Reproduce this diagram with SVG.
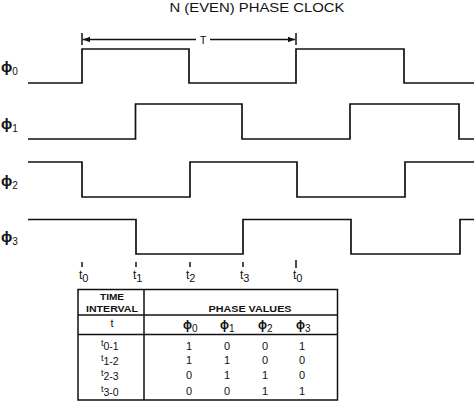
<svg xmlns="http://www.w3.org/2000/svg" width="474" height="402" viewBox="0 0 474 402">
<defs>
<style>
text{font-family:"Liberation Sans",Arial,sans-serif;fill:#111}
.w{fill:none;stroke:#111;stroke-width:1.7}
.ln{fill:none;stroke:#111;stroke-width:1.5}
.tk{stroke:#111;stroke-width:1.5}
.ph{font-size:15px;font-weight:bold}
.sub{font-size:10px;font-weight:normal}
.hd{font-size:9.5px;text-anchor:middle;font-weight:bold}
.v{font-size:11px;text-anchor:middle}
.tp{font-size:12px;font-weight:bold}
</style>
<marker id="ah" viewBox="0 0 10 10" refX="10" refY="5" markerWidth="7" markerHeight="7" orient="auto-start-reverse" markerUnits="userSpaceOnUse">
<path d="M0,1 L10,5 L0,9 z" fill="#111"/>
</marker>
</defs>
<rect width="474" height="402" fill="#fff"/>
<text x="257" y="12" font-size="13" text-anchor="middle" textLength="175" lengthAdjust="spacingAndGlyphs">N (EVEN) PHASE CLOCK</text>

<g id="period">
<line class="tk" x1="82" y1="33" x2="82" y2="45"/>
<line class="tk" x1="296" y1="33" x2="296" y2="45"/>
<line class="ln" x1="196" y1="39.5" x2="83" y2="39.5" marker-end="url(#ah)"/>
<line class="ln" x1="210" y1="39.5" x2="295" y2="39.5" marker-end="url(#ah)"/>
<text x="203" y="44" font-size="11" text-anchor="middle">T</text>
</g>

<g id="phi0">
<text x="1" y="72" class="ph">ϕ<tspan class="sub" dy="3">0</tspan></text>
<path class="w" d="M28,83 H82 V49 H189 V83 H296 V49 H404 V83 H474"/>
</g>
<g id="phi1">
<text x="1" y="129" class="ph">ϕ<tspan class="sub" dy="3">1</tspan></text>
<path class="w" d="M28,139 H135.5 V104 H242 V139 H350 V104 H459 V139 H474"/>
</g>
<g id="phi2">
<text x="1" y="186" class="ph">ϕ<tspan class="sub" dy="3">2</tspan></text>
<path class="w" d="M28,162 H82 V197 H190 V162 H297 V197 H405 V162 H474"/>
</g>
<g id="phi3">
<text x="1" y="242" class="ph">ϕ<tspan class="sub" dy="3">3</tspan></text>
<path class="w" d="M28,219.5 H136 V254 H243 V219.5 H351 V254 H460 V219.5 H474"/>
</g>

<g id="ticks">
<line class="tk" x1="82" y1="262" x2="82" y2="267"/>
<line class="tk" x1="136" y1="262" x2="136" y2="267"/>
<line class="tk" x1="190" y1="262" x2="190" y2="267"/>
<line class="tk" x1="243" y1="262" x2="243" y2="267"/>
<line class="tk" x1="296" y1="260" x2="296" y2="268"/>
<text x="79" y="279" font-size="12">t<tspan font-size="11" dy="3">0</tspan></text>
<text x="133" y="279" font-size="12">t<tspan font-size="11" dy="3">1</tspan></text>
<text x="186" y="279" font-size="12">t<tspan font-size="11" dy="3">2</tspan></text>
<text x="240" y="279" font-size="12">t<tspan font-size="11" dy="3">3</tspan></text>
<text x="293" y="279" font-size="12">t<tspan font-size="11" dy="3">0</tspan></text>
</g>

<g id="table">
<path class="ln" d="M78,289.5 H337.5 V400 H78 Z"/>
<line class="ln" x1="144" y1="289.5" x2="144" y2="400"/>
<line class="ln" x1="78" y1="315" x2="337.5" y2="315"/>
<line class="ln" x1="78" y1="334.5" x2="337.5" y2="334.5"/>
<text class="hd" x="112" y="300" textLength="24" lengthAdjust="spacingAndGlyphs">TIME</text>
<text class="hd" x="112" y="311.5" textLength="52" lengthAdjust="spacingAndGlyphs">INTERVAL</text>
<text class="hd" x="250" y="311.5" textLength="83" lengthAdjust="spacingAndGlyphs">PHASE VALUES</text>
<text class="v" x="112" y="327">t</text>
<text x="183" y="329" class="tp">ϕ<tspan class="sub" dy="3">0</tspan></text>
<text x="220" y="329" class="tp">ϕ<tspan class="sub" dy="3">1</tspan></text>
<text x="258" y="329" class="tp">ϕ<tspan class="sub" dy="3">2</tspan></text>
<text x="296" y="329" class="tp">ϕ<tspan class="sub" dy="3">3</tspan></text>
<text x="101" y="346" font-size="9">t<tspan font-size="10.5" dy="4">0-1</tspan></text>
<text x="101" y="361" font-size="9">t<tspan font-size="10.5" dy="4">1-2</tspan></text>
<text x="101" y="376" font-size="9">t<tspan font-size="10.5" dy="4">2-3</tspan></text>
<text x="101" y="392" font-size="9">t<tspan font-size="10.5" dy="4">3-0</tspan></text>
<g class="vals">
<text class="v" x="189" y="350">1</text><text class="v" x="227" y="350">0</text><text class="v" x="265" y="350">0</text><text class="v" x="302" y="350">1</text>
<text class="v" x="189" y="364">1</text><text class="v" x="227" y="364">1</text><text class="v" x="265" y="364">0</text><text class="v" x="302" y="364">0</text>
<text class="v" x="189" y="379">0</text><text class="v" x="227" y="379">1</text><text class="v" x="265" y="379">1</text><text class="v" x="302" y="379">0</text>
<text class="v" x="189" y="395">0</text><text class="v" x="227" y="395">0</text><text class="v" x="265" y="395">1</text><text class="v" x="302" y="395">1</text>
</g>
</g>
</svg>
